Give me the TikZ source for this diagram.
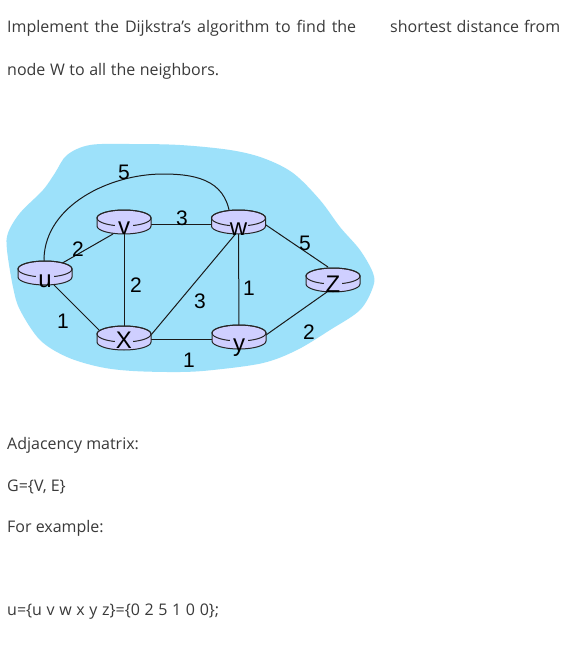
\documentclass[tikz,border=0pt]{standalone}
\usepackage{fontspec}
\setmainfont{Open Sans}
\newfontfamily\netfont{Liberation Sans}
\usetikzlibrary{calc}
\definecolor{cloud}{HTML}{9DE1FA}
\definecolor{routerfill}{HTML}{CFCFFF}
\definecolor{bodytext}{HTML}{3A3A3A}
\definecolor{linkline}{HTML}{1A1A1A}
\tikzset{
  x=1pt,y=-1pt,
  anchorbox/.style={inner sep=0pt,minimum width=54pt,minimum height=24pt},
  bodyline/.style={anchor=base west,inner sep=0pt,text=bodytext,font=\fontsize{16}{18}\selectfont},
  link/.style={draw=linkline,line width=1pt},
  weight/.style={inner sep=0pt,font=\netfont\fontsize{21}{23}\selectfont,text=black},
  routerletter/.style={anchor=base,inner sep=0pt,font=\netfont\fontsize{24}{26}\selectfont,text=black},
  routeredge/.style={draw=black!85,line width=1pt},
}
\newcommand{\routerat}[3]{%
  \path[routeredge,fill=routerfill] ($(#1)+(-27,-4)$) -- ($(#1)+(-27,4)$)
    arc[start angle=180,end angle=360,x radius=27pt,y radius=8pt] -- ($(#1)+(27,-4)$)
    arc[start angle=0,end angle=180,x radius=27pt,y radius=8pt] -- cycle;
  \draw[routeredge] ($(#1)+(0,-4)$) ellipse[x radius=27pt,y radius=8pt];
  \fill[routerfill] ($(#1)+(-9,-2)$) rectangle ($(#1)+(9,10.5)$);
  \node[routerletter] at ($(#1)+(0,#3)$) {#2};
}
\begin{document}
\begin{tikzpicture}
\useasboundingbox (0,0) rectangle (575,664);
\fill[white] (0,0) rectangle (575,664);
% cloud
\fill[cloud] plot[smooth cycle,tension=0.55] coordinates {
 (90,145) (67,155) (55,173) (43,190) (20,213) (8,233) (7,250) (13,287) (20,310) (40,340)
 (67,357) (100,367) (133,371) (180,372) (213,370) (263,363) (297,350) (330,330) (360,310)
 (373,287) (373,273) (360,250) (340,227) (320,200) (293,173) (263,158) (230,150) (180,145) (130,144)};
% router anchors
\node[anchorbox] (u) at (45,273) {};
\node[anchorbox] (v) at (124,222) {};
\node[anchorbox] (w) at (238.5,222) {};
\node[anchorbox] (x) at (124,338) {};
\node[anchorbox] (yy) at (239,337) {};
\node[anchorbox] (z) at (333,280) {};
% links
\draw[link] (u.center) -- ++(-1,-15) .. controls (46,205) and (110,174) .. (163,174) .. controls (200,174) and (229,182) .. ($(w.center)+(-8,0)$);
\draw[link] (u.center) -- ($(v.center)+(-11,12)$);
\draw[link] ($(u.center)+(9,12)$) -- ($(x.center)+(-24,-7)$);
\draw[link] ($(v.center)+(0,2)$) -- ($(w.center)+(0,2)$);
\draw[link] (v.center) -- (x.center);
\draw[link] ($(x.center)+(27,-3)$) -- ($(w.center)+(-3,12)$);
\draw[link] ($(x.center)+(0,1)$) -- ($(yy.center)+(0,2)$);
\draw[link] (w.center) -- (yy.center);
\draw[link] ($(w.center)+(26,2)$) -- ($(z.center)+(-5,-13)$);
\draw[link] ($(yy.center)+(27,-2)$) -- ($(z.center)+(-6,12)$);
% routers
\routerat{u}{u}{14}
\routerat{v}{v}{12}
\routerat{w}{w}{13}
\routerat{x}{X}{10}
\routerat{yy}{y}{14}
\routerat{z}{Z}{12}
% weights
\node[weight] (w1) at (124,172) {5};
\node[weight] (w2) at (78,249) {2};
\node[weight] (w3) at (182,218) {3};
\node[weight] (w4) at (136,285) {2};
\node[weight] (w5) at (63,321) {1};
\node[weight] (w6) at (200,301) {3};
\node[weight] (w7) at (189,360) {1};
\node[weight] (w8) at (249,288) {1};
\node[weight] (w9) at (305,243) {5};
\node[weight] (w10) at (309,332) {2};
% text
\node[bodyline] (t1) at (7,32.5) {\hbox to 349pt{Implement\hfil the\hfil Dijkstra's\hfil algorithm\hfil to\hfil find\hfil the}};
\node[bodyline] (t2) at (390,32.5) {\hbox to 170pt{shortest\hfil distance\hfil from}};
\node[bodyline] (t3) at (7,75) {\hbox to 212pt{node\hfil W\hfil to\hfil all\hfil the\hfil neighbors.}};
\node[bodyline] (t4) at (7,449) {Adjacency matrix:};
\node[bodyline] (t5) at (7,491) {G=\{V, E\}};
\node[bodyline] (t6) at (7,532) {For example:};
\node[bodyline] (t7) at (7,615) {\hbox to 212pt{u=\{u\hfil v\hfil w\hfil x\hfil y\hfil z\}=\{0\hfil 2\hfil 5\hfil 1\hfil 0\hfil 0\};}};
\end{tikzpicture}
\end{document}
